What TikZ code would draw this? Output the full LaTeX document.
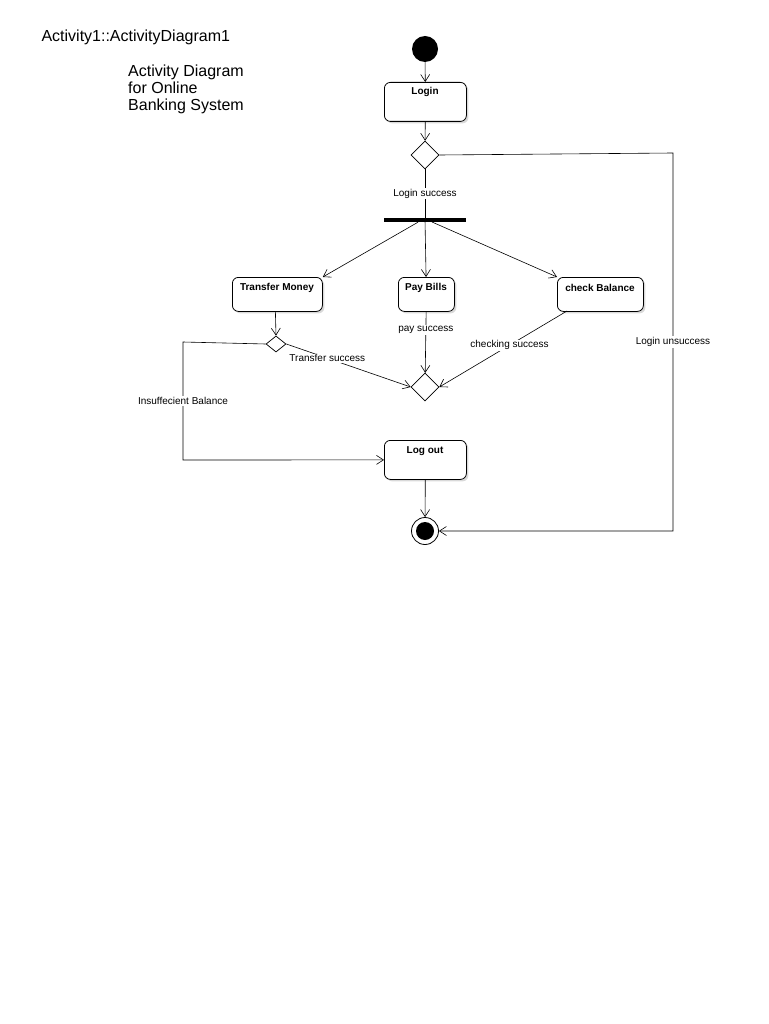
\documentclass[tikz,border=0pt]{standalone}
\usepackage{fontspec}
\setmainfont{Liberation Sans}
\usetikzlibrary{arrows.meta,shapes.geometric,shadows}
\begin{document}
\begin{tikzpicture}[x=1pt,y=-1pt,
  act/.style={draw,rounded corners=6pt,fill=white,line width=0.8pt,drop shadow={shadow xshift=2pt,shadow yshift=-2pt,opacity=0.3},font=\bfseries\fontsize{10}{12}\selectfont,anchor=north west,align=center,inner sep=0pt},
  dec/.style={draw,diamond,fill=white,line width=0.7pt,inner sep=0pt,minimum width=28pt,minimum height=28pt},
  lbl/.style={font=\fontsize{10}{12}\selectfont,fill=white,inner sep=1pt},
  arr/.style={-{Straight Barb[length=7pt,width=9pt]},line width=0.6pt}]
\useasboundingbox (0,0) rectangle (768,1024);
\node[anchor=west,font=\fontsize{16}{19}\selectfont] (title) at (38,37) {Activity1::ActivityDiagram1};
\node[anchor=north west,align=left,font=\fontsize{16}{17}\selectfont,inner sep=0pt] (desc) at (128,65) {Activity Diagram\\for Online\\Banking System};
\node[circle,fill=black,minimum size=26pt,inner sep=0pt] (start) at (425,49) {};
\node[act,minimum width=82pt,minimum height=39pt] (login) at (384,82) {};
\node[font=\bfseries\fontsize{10}{12}\selectfont] at (425,92) {Login};
\node[dec] (d1) at (425,155) {};
\node[fill=black,minimum width=82pt,minimum height=4pt,inner sep=0pt] (fork) at (425,220) {};
\node[act,minimum width=90pt,minimum height=34pt] (tm) at (232,277) {};
\node[font=\bfseries\fontsize{10}{12}\selectfont] at (277,288) {Transfer Money};
\node[act,minimum width=56pt,minimum height=34pt] (pb) at (398,277) {};
\node[font=\bfseries\fontsize{10}{12}\selectfont] at (426,288) {Pay Bills};
\node[act,minimum width=86pt,minimum height=34pt] (cb) at (557,277) {};
\node[font=\bfseries\fontsize{10}{12}\selectfont] at (600,288) {check Balance};
\node[dec,minimum width=20pt,minimum height=16pt] (d2) at (276,344) {};
\node[dec] (d3) at (425,387) {};
\node[act,minimum width=82pt,minimum height=39pt] (lo) at (384,440) {};
\node[font=\bfseries\fontsize{10}{12}\selectfont] at (425,451) {Log out};
\node[circle,draw,line width=0.8pt,minimum size=27pt,inner sep=0pt] (end) at (425,531) {};
\node[circle,fill=black,minimum size=18pt,inner sep=0pt] at (425,531) {};
\draw[arr] (start) -- (login);
\draw[arr] (login) -- (d1);
\draw[line width=0.6pt] (d1) -- (fork) node[lbl,midway] {Login success};
\draw[arr] (fork.south)+(-7,0) coordinate (f1) (f1) -- (tm.north east) ;
\coordinate (f2) at (432,222);
\draw[arr] (f2) -- (cb.north west);
\draw[arr] (fork) -- (pb);
\draw[arr] (tm.south)+(-2,0) coordinate (t1) (t1) -- (d2.north);
\draw[arr] (pb) -- (d3) node[lbl,pos=0.3] {pay success};
\coordinate (c1) at (567,311);
\draw[arr] (c1) -- (d3.east) node[lbl,pos=0.45] {checking success};
\draw[arr] (d2.east) -- (d3.west) node[lbl,pos=0.33] {Transfer success};
\coordinate (k1) at (183,342);
\coordinate (k2) at (183,460);
\draw[arr] (d2.west) -- (k1) -- (k2) node[lbl,midway] {Insuffecient Balance} -- (lo.west);
\coordinate (u1) at (673,153);
\coordinate (u2) at (673,531);
\draw[arr] (d1.east) -- (u1) -- (u2) node[lbl,pos=0.5] {Login unsuccess} -- (end.east);
\draw[arr] (lo) -- (end);
\end{tikzpicture}
\end{document}
